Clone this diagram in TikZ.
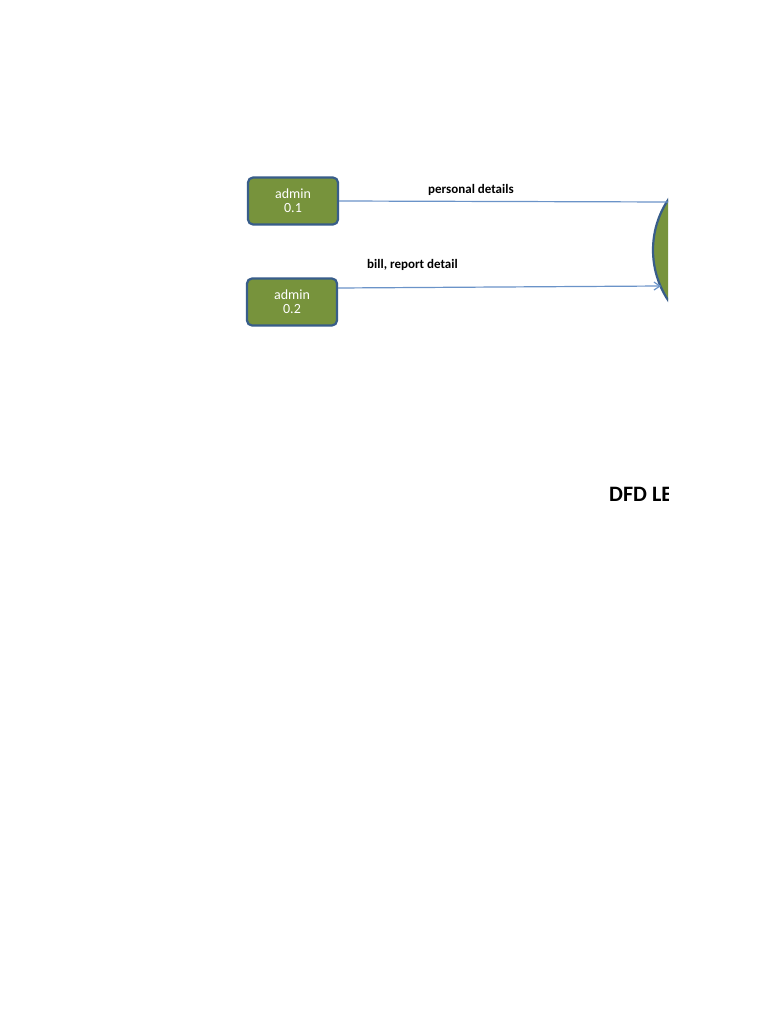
\documentclass[tikz,border=0pt]{standalone}
\usepackage{fontspec}
\setmainfont{Carlito}
\usetikzlibrary{arrows.meta}
\definecolor{olive}{HTML}{77933C}
\definecolor{edgeblue}{HTML}{385D8A}
\definecolor{flowblue}{HTML}{6A93C8}
\tikzset{
  entity/.style={draw=edgeblue, line width=2.2pt, fill=olive, rounded corners=5pt,
    minimum width=90pt, minimum height=47pt, text=white, align=center,
    font=\fontsize{14}{14}\selectfont},
  flow/.style={draw=flowblue, line width=1.2pt},
  flowlabel/.style={font=\bfseries\fontsize{13}{14}\selectfont, text=black, anchor=west, inner sep=0pt},
  process/.style={draw=edgeblue, line width=2.2pt, fill=olive}
}
\begin{document}
\begin{tikzpicture}[x=1pt,y=-1pt]
\useasboundingbox (0,0) rectangle (768,1024);
\fill[white] (0,0) rectangle (768,1024);
\begin{scope}
\clip (0,0) rectangle (668,1024);
\node[process, circle, minimum size=182pt] (p) at (744,250) {};
\node[entity] (a1) at (293,201) {admin\\0.1};
\node[entity] (a2) at (292,302) {admin\\0.2};
\coordinate (t1) at (670,202);
\coordinate (t2) at (661,286);
\draw[flow] (a1.east) -- (t1);
\draw[flow, -{Straight Barb[length=6pt,width=8pt]}] ([yshift=14pt]a2.east) -- (t2);
\node[flowlabel] (l1) at (428,190) {personal details};
\node[flowlabel] (l2) at (367,265) {bill, report detail};
\node[anchor=base west, inner sep=0pt, font=\bfseries\fontsize{22}{24}\selectfont] (title) at (609,501) {DFD LE};
\end{scope}
\end{tikzpicture}
\end{document}
